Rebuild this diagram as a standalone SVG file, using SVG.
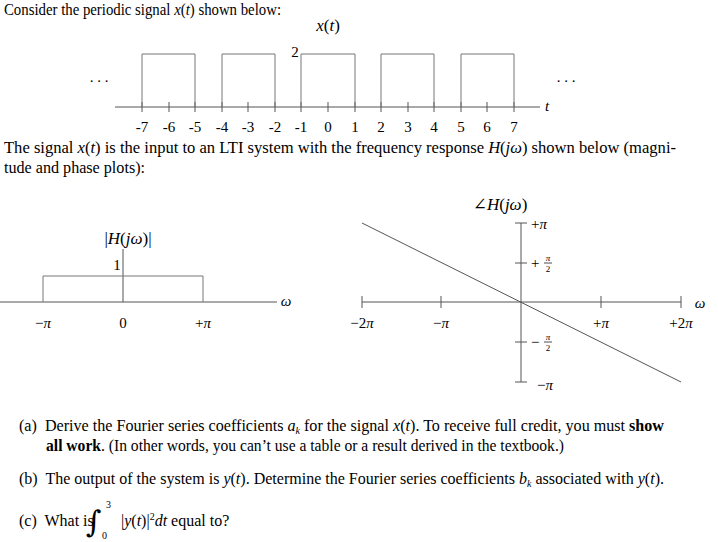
<svg xmlns="http://www.w3.org/2000/svg" width="718" height="542" viewBox="0 0 718 542">
<style>
text{font-family:"Liberation Serif","DejaVu Serif",serif;font-size:15px;fill:#000}
.b{font-size:16px}
.i{font-style:italic}
.m{text-anchor:middle}
.ax{stroke:#555;stroke-width:1;fill:none}
.sg{stroke:#777;stroke-width:1;fill:none}
</style>
<rect width="718" height="542" fill="#fff"/>
<text x="4" y="15" class="b" textLength="277" lengthAdjust="spacingAndGlyphs">Consider the periodic signal <tspan class="i">x</tspan>(<tspan class="i">t</tspan>) shown below:</text>
<g id="signal">
<line class="ax" x1="115" y1="107" x2="540" y2="107"/>
<path class="ax" d="M142,102V112 M169,102V112 M195,102V112 M222,102V112 M248,102V112 M275,102V112 M301,102V112 M328,102V112 M355,102V112 M381,102V112 M408,102V112 M434,102V112 M461,102V112 M487,102V112 M514,102V112"/>
<path class="sg" d="M142,107V54H195V107 M222,107V54H275V107 M301,107V54H355V107 M381,107V54H434V107 M461,107V54H514V107"/>
<g class="m"><text x="142" y="132">-7</text><text x="169" y="132">-6</text><text x="195" y="132">-5</text><text x="222" y="132">-4</text><text x="248" y="132">-3</text><text x="275" y="132">-2</text><text x="301" y="132">-1</text><text x="328" y="132">0</text><text x="355" y="132">1</text><text x="381" y="132">2</text><text x="408" y="132">3</text><text x="434" y="132">4</text><text x="461" y="132">5</text><text x="487" y="132">6</text><text x="514" y="132">7</text></g>
<text x="295" y="57" class="m">2</text>
<text x="328" y="31" class="m" style="font-size:17px"><tspan class="i">x</tspan>(<tspan class="i">t</tspan>)</text>
<text x="547" y="111" class="i m">t</text>
<text x="99" y="82" class="m">. . .</text>
<text x="566" y="82" class="m">. . .</text>
</g>
<text x="4" y="153" class="b" textLength="672" lengthAdjust="spacingAndGlyphs">The signal <tspan class="i">x</tspan>(<tspan class="i">t</tspan>) is the input to an LTI system with the frequency response <tspan class="i">H</tspan>(<tspan class="i">jω</tspan>) shown below (magni-</text>
<text x="4" y="173" class="b" textLength="141" lengthAdjust="spacingAndGlyphs">tude and phase plots):</text>
<g id="magnitude">
<line class="ax" x1="0" y1="302" x2="277" y2="302"/>
<line class="ax" x1="123" y1="249" x2="123" y2="302"/>
<path class="sg" d="M43,302V276H203V302"/>
<text x="128" y="244" class="m" style="font-size:17px">|<tspan class="i">H</tspan>(<tspan class="i">jω</tspan>)|</text>
<text x="117" y="270" class="m">1</text>
<text x="286" y="306" class="i m">ω</text>
<text x="43" y="328" class="m">−<tspan class="i">π</tspan></text>
<text x="123" y="328" class="m">0</text>
<text x="203" y="328" class="m">+<tspan class="i">π</tspan></text>
</g>
<g id="phase">
<line class="ax" x1="362" y1="302" x2="681" y2="302"/>
<path class="ax" d="M362,296V308 M441,296V308 M601,296V308 M681,296V308"/>
<line class="ax" x1="521" y1="223" x2="521" y2="382"/>
<path class="ax" d="M515,223H527 M515,263H527 M515,342H527 M515,382H527"/>
<line class="ax" x1="362" y1="223" x2="681" y2="382"/>
<text x="500" y="210" class="m" style="font-size:17px">∠<tspan class="i">H</tspan>(<tspan class="i">jω</tspan>)</text>
<text x="531" y="229">+<tspan class="i">π</tspan></text>
<text x="531" y="268">+</text><text x="548" y="261" class="i m" style="font-size:9px">π</text><line x1="544" y1="263" x2="552" y2="263" stroke="#000" stroke-width="0.7"/><text x="548" y="272" class="m" style="font-size:9px">2</text>
<text x="531" y="347">−</text><text x="548" y="340" class="i m" style="font-size:9px">π</text><line x1="544" y1="342" x2="552" y2="342" stroke="#000" stroke-width="0.7"/><text x="548" y="351" class="m" style="font-size:9px">2</text>
<text x="537" y="390">−<tspan class="i">π</tspan></text>
<text x="700" y="308" class="i m">ω</text>
<text x="362" y="328" class="m">−2<tspan class="i">π</tspan></text>
<text x="441" y="328" class="m">−<tspan class="i">π</tspan></text>
<text x="601" y="328" class="m">+<tspan class="i">π</tspan></text>
<text x="681" y="328" class="m">+2<tspan class="i">π</tspan></text>
</g>
<text x="19" y="431" class="b" textLength="645" lengthAdjust="spacingAndGlyphs" xml:space="preserve">(a)  Derive the Fourier series coefficients <tspan class="i">a<tspan style="font-size:10px" dy="3">k</tspan></tspan><tspan dy="-3"> for the signal </tspan><tspan class="i">x</tspan>(<tspan class="i">t</tspan>). To receive full credit, you must <tspan font-weight="bold">show</tspan></text>
<text x="46" y="451" class="b" textLength="518" lengthAdjust="spacingAndGlyphs"><tspan font-weight="bold">all work</tspan>. (In other words, you can’t use a table or a result derived in the textbook.)</text>
<text x="19" y="484" class="b" textLength="645" lengthAdjust="spacingAndGlyphs" xml:space="preserve">(b)  The output of the system is <tspan class="i">y</tspan>(<tspan class="i">t</tspan>). Determine the Fourier series coefficients <tspan class="i">b<tspan style="font-size:10px" dy="3">k</tspan></tspan><tspan dy="-3"> associated with </tspan><tspan class="i">y</tspan>(<tspan class="i">t</tspan>).</text>
<text x="19" y="526" class="b" xml:space="preserve">(c)  What is</text>
<text x="86" y="532" style="font-size:30px;font-family:'DejaVu Serif',serif">∫</text>
<text x="106" y="508" style="font-size:10px">3</text>
<text x="102" y="539" style="font-size:10px">0</text>
<text x="121" y="526" class="b">|<tspan class="i">y</tspan>(<tspan class="i">t</tspan>)|<tspan style="font-size:10px" dy="-6">2</tspan><tspan class="i" dy="6">dt</tspan> equal to?</text>
</svg>
